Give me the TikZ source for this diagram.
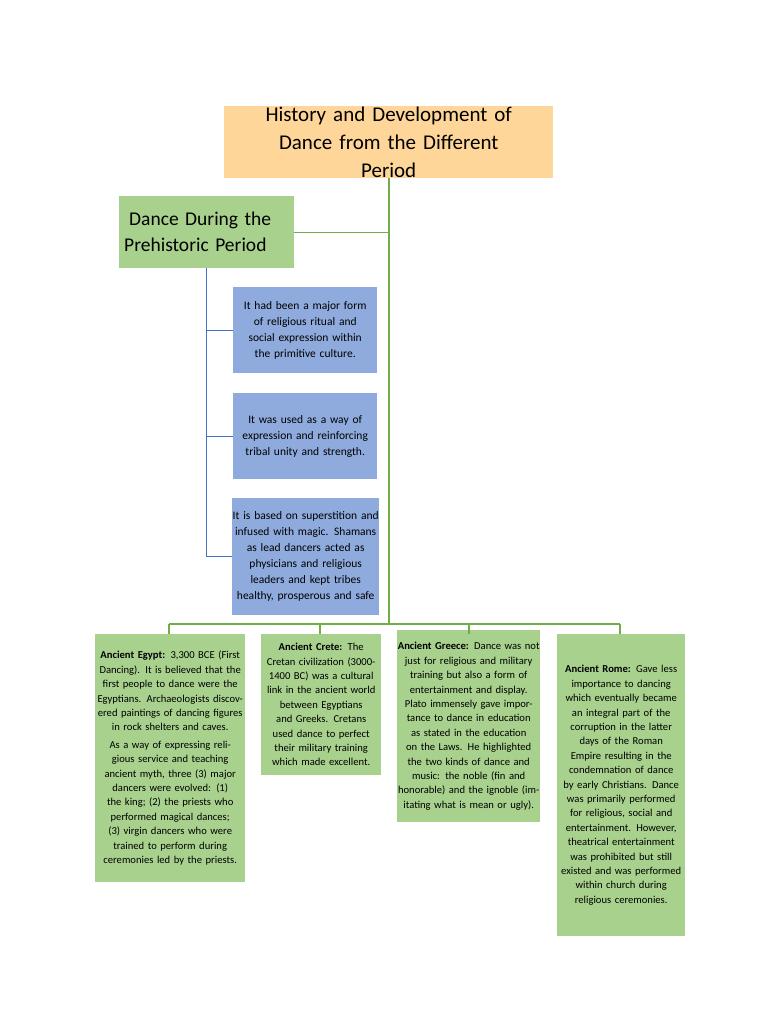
\documentclass[tikz,border=0pt]{standalone}
\usepackage{fontspec}
\setmainfont{Carlito}
\begin{document}
\begin{tikzpicture}[x=1pt,y=-1pt,
 gl/.style={draw=green!50!black!60!white, line width=1.2pt, color={rgb,255:red,112;green,173;blue,71}},
 bl/.style={line width=1pt, color={rgb,255:red,68;green,114;blue,196}},
 gbox/.style={fill={rgb,255:red,169;green,209;blue,142}, inner sep=2pt, align=center, anchor=north west, font=\fontsize{10.6}{14.4}\selectfont},
 bbox/.style={fill={rgb,255:red,143;green,170;blue,220}, inner sep=0pt, align=center, font=\fontsize{11.5}{16}\selectfont}]
\useasboundingbox (0,0) rectangle (768,1024);
\node[fill={rgb,255:red,255;green,214;blue,153}, minimum width=329, minimum height=72, inner sep=0, anchor=north west, align=center, font=\fontsize{21}{28}\selectfont, text width=320] (title) at (224,106) {History and Development of\\ Dance from the Different\\ Period};
\node[fill={rgb,255:red,169;green,209;blue,142}, minimum width=175, minimum height=72, inner sep=0, anchor=north west, align=left, font=\fontsize{19.5}{26}\selectfont, text width=165] (pre) at (119,196) {\hspace*{5pt}Dance During the\\ Prehistoric Period};
\node[bbox, minimum width=144, minimum height=86, text width=142, anchor=north west] (b1) at (233,287) {It had been a major form of religious ritual and social expression within the primitive culture.};
\node[bbox, minimum width=144, minimum height=86, text width=142, anchor=north west] (b2) at (233,393) {It was used as a way of expression and reinforcing tribal unity and strength.};
\node[bbox, minimum width=147, minimum height=117, text width=147, anchor=north west] (b3) at (232,498) {It is based on superstition and infused with magic. Shamans as lead dancers acted as physicians and religious leaders and kept tribes healthy, prosperous and safe};
\node[gbox, minimum width=148, minimum height=248, text width=146, anchor=north west] (eg) at (95,634) {\textbf{Ancient Egypt:} 3,300 BCE (First Dancing). It is believed that the first people to dance were the Egyptians. Archaeologists discovered paintings of dancing figures in rock shelters and caves.\par\vspace{3pt}As a way of expressing religious service and teaching ancient myth, three (3) major dancers were evolved: (1) the king; (2) the priests who performed magical dances; (3) virgin dancers who were trained to perform during ceremonies led by the priests.\par\vspace*{\fill}};
\node[gbox, minimum width=118, minimum height=141, text width=116, anchor=north west] (cr) at (261,634) {\textbf{Ancient Crete:} The Cretan civilization (3000-1400 BC) was a cultural link in the ancient world between Egyptians and Greeks. Cretans used dance to perfect their military training which made excellent.};
\node[gbox, minimum width=143, minimum height=192, text width=143, inner sep=0pt, anchor=north west] (gr) at (397,630) {\textbf{Ancient Greece:} Dance was not just for religious and military training but also a form of entertainment and display. Plato immensely gave importance to dance in education as stated in the education on the Laws. He highlighted the two kinds of dance and music: the noble (fin and honorable) and the ignoble (imitating what is mean or ugly).};
\node[gbox, minimum width=126, minimum height=302, text width=124, anchor=north west] (ro) at (557,634) {\textbf{Ancient Rome:} Gave less importance to dancing which eventually became an integral part of the corruption in the latter days of the Roman Empire resulting in the condemnation of dance by early Christians. Dance was primarily performed for religious, social and entertainment. However, theatrical entertainment was prohibited but still existed and was performed within church during religious ceremonies.};
\coordinate (t) at (389,624);
\draw[gl] (title.south -| t) -- (t);
\draw[gl] (pre.east) -- (pre.east -| t);
\draw[gl] (169,624) -- (620,624);
\draw[gl] (169,624) -- (169,634);
\draw[gl] (320,624) -- (cr.north -| 320,0);
\draw[gl] (469,624) -- (469,634);
\draw[gl] (620,624) -- (ro.north -| 620,0);
\draw[bl] (206,268) -- (206,556);
\draw[bl] (206,330) -- (b1.west |- 206,330);
\draw[bl] (206,436) -- (b2.west |- 206,436);
\draw[bl] (206,556) -- (b3.west |- 206,556);
\end{tikzpicture}
\end{document}
